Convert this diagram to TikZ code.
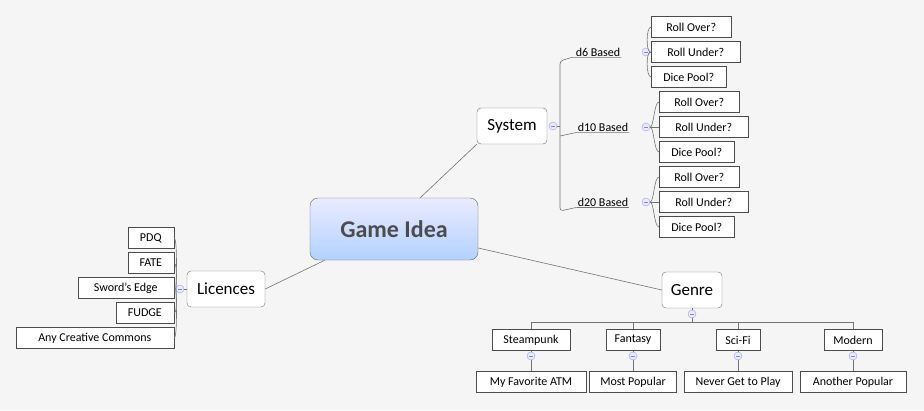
\documentclass[tikz,border=0pt]{standalone}
\usepackage{fontspec}
\setmainfont{Carlito}
\begin{document}
\begin{tikzpicture}[x=1pt,y=-1pt,
  leaf/.style={draw=black!70,fill=white,inner sep=0pt,minimum height=21pt,text width=#1,align=center,font=\fontsize{12}{12}\selectfont},
  leaf/.default=70pt,
  mid/.style={draw=black!55,fill=white,rounded corners=4pt,minimum height=36pt,inner sep=3pt,font=\fontsize{17}{17}\selectfont},
  lbl/.style={inner sep=1pt,font=\fontsize{12}{12}\selectfont},
  con/.style={draw=black!55,line width=0.6pt},
  mk/.style={circle,draw=blue!40,fill=blue!8,inner sep=0pt,minimum size=8pt,path picture={\draw[blue!50] ([xshift=-2pt]path picture bounding box.center)--([xshift=2pt]path picture bounding box.center);}}]
\fill[white!96!black] (0,0) rectangle (924,410);
\useasboundingbox (0,0) rectangle (924,410);
% central
\node[draw=black!60,rounded corners=8pt,top color=blue!8,bottom color=cyan!40!blue!30,minimum width=168pt,minimum height=62pt,font=\fontsize{24}{24}\selectfont\bfseries,text=black!70] (gi) at (394,229) {Game Idea};
\node[mid,minimum width=70pt] (sys) at (512,126) {System};
\node[mid,minimum width=78pt] (lic) at (226,289) {Licences};
\node[mid,minimum width=60pt] (gen) at (692,290) {Genre};
\draw[con] (420,198) -- (sys.south west);
\draw[con] (gi.south west)++(15,0) -- (lic.east);
\draw[con] (gi.east)++(0,19) -- (gen.west);
% system branch
\node[mk] (ms) at (553,126) {};
\coordinate (sb) at (560,126);
\node[lbl] (d6) at (598,52) {d6 Based};
\node[lbl] (d10) at (603,127) {d10 Based};
\node[lbl] (d20) at (603,202) {d20 Based};
\draw[con] (ms.east) -- (sb);
\draw[con] (d6.south east) -- (d6.south west) -- ++(-3,0) [rounded corners=3pt] -- (560,61) -- (560,211) -- (d20.south west);
\draw[con] (560,136) -- (d10.south west) -- (d10.south east);
\draw[con] (d20.south west) -- (d20.south east);
\foreach \n/\y/\x in {6/52/651,10/127/659,20/202/659}{
  \node[mk] (m\n) at (646,\y) {};
  \node[leaf=76pt,anchor=west,text width=,minimum width=80pt] (a\n) at (\x,\y-25) {Roll Over?};
  \node[leaf,anchor=west,text width=,minimum width=89pt] (b\n) at (\x,\y) {Roll Under?};
  \node[leaf,anchor=west,text width=,minimum width=75pt] (c\n) at (\x,\y+25) {Dice Pool?};
  \draw[con] (m\n.east) .. controls (\x-5,\y) and (\x-5,\y-25) .. (a\n.west);
  \draw[con] (m\n.east) -- (b\n.west);
  \draw[con] (m\n.east) .. controls (\x-5,\y) and (\x-5,\y+25) .. (c\n.west);
}
% licences
\node[mk] (ml) at (180,289) {};
\draw[con] (ml.east) -- (lic.west);
\foreach \t/\y/\w [count=\i] in {PDQ/238/46,FATE/263/46,Sword's Edge/288/96,FUDGE/313/58,Any Creative Commons/338/158}{
  \node[leaf,anchor=east,text width=,minimum width=\w pt] (l\i) at (174,\y) {\t};
}
\draw[con] (ml.west) .. controls (176,289) and (178,238) .. (l1.east);
\draw[con] (ml.west) .. controls (176,289) and (178,263) .. (l2.east);
\draw[con] (ml.west) -- (l3.east);
\draw[con] (ml.west) .. controls (176,289) and (178,313) .. (l4.east);
\draw[con] (ml.west) .. controls (176,289) and (178,338) .. (l5.east);
% genre
\node[mk] (mg) at (692,314) {};
\draw[con] (gen.south) -- (mg.north);
\draw[con] (531,322) -- (853,322);
\draw[con] (mg.south) -- (692,322);
\foreach \t/\s/\x/\wa/\wb [count=\i] in {Steampunk/My Favorite ATM/531/78/110,Fantasy/Most Popular/633/54/87,Sci-Fi/Never Get to Play/738/44/108,Modern/Another Popular/853/58/106}{
  \node[leaf,text width=,minimum width=\wa pt] (g\i) at (\x,340) {\t};
  \node[mk] (mg\i) at (\x,356) {};
  \node[leaf,text width=,minimum width=\wb pt] (h\i) at (\x,382) {\s};
  \draw[con] (\x,322) -- (g\i.north);
  \draw[con] (g\i.south) -- (mg\i.north);
  \draw[con] (mg\i.south) -- (h\i.north);
}
\end{tikzpicture}
\end{document}
